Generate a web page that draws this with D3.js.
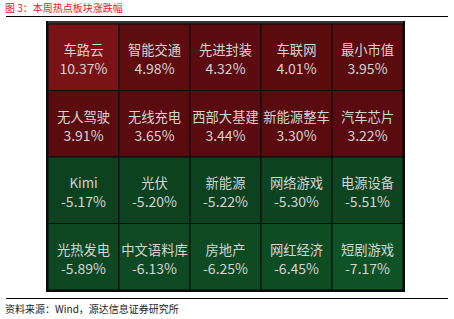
<!DOCTYPE html>
<html>
<head>
<meta charset="utf-8">
<script src="https://cdn.jsdelivr.net/npm/d3@7"></script>
<style>
  body { margin: 0; background: #fff; }
  svg { display: block; font-family: "Noto Sans CJK SC", "Noto Sans", sans-serif; }
</style>
</head>
<body>
<div id="plot"></div>
<script>
// sectors, in reading order (left to right, top to bottom)
const sectors = ['车路云', '智能交通', '先进封装', '车联网', '最小市值',
                 '无人驾驶', '无线充电', '西部大基建', '新能源整车', '汽车芯片',
                 'Kimi', '光伏', '新能源', '网络游戏', '电源设备',
                 '光热发电', '中文语料库', '房地产', '网红经济', '短剧游戏'];
const changes = [10.37, 4.98, 4.32, 4.01, 3.95,
                 3.91, 3.65, 3.44, 3.30, 3.22,
                 -5.17, -5.20, -5.22, -5.30, -5.51,
                 -5.89, -6.13, -6.25, -6.45, -7.17];
const colCount = 5;

const width = 454;
const height = 319;

const svg = d3.select('#plot')
    .append('svg')
    .attr('width', width)
    .attr('height', height);

// title + rules
svg.append('text')
    .attr('x', 5)
    .attr('y', 12)
    .attr('font-size', '10px')
    .attr('fill', '#e8141e')
    .text('图 3：本周热点板块涨跌幅');

svg.append('line')
    .attr('x1', 6).attr('x2', 448)
    .attr('y1', 16.5).attr('y2', 16.5)
    .attr('stroke', '#000')
    .attr('stroke-width', 1.2);

svg.append('line')
    .attr('x1', 6).attr('x2', 448)
    .attr('y1', 298.5).attr('y2', 298.5)
    .attr('stroke', '#000')
    .attr('stroke-width', 1.2);

svg.append('text')
    .attr('x', 5)
    .attr('y', 313)
    .attr('font-size', '10px')
    .attr('fill', '#222')
    .text('资料来源：Wind，源达信息证券研究所');

// panel frame
const grid = {left: 48, right: 403, top: 24, bottom: 290};
svg.append('rect')
    .attr('x', grid.left - 2)
    .attr('y', grid.top - 3)
    .attr('width', grid.right - grid.left + 4)
    .attr('height', grid.bottom - grid.top + 5)
    .attr('fill', '#0b0b0b');
svg.append('rect')
    .attr('x', grid.left)
    .attr('y', grid.top - 3)
    .attr('width', grid.right - grid.left)
    .attr('height', 3)
    .attr('fill', '#353535');

const cells = sectors.map((name, i) => ({
    name,
    value: changes[i],
    col: i % colCount,
    row: Math.floor(i / colCount)
}));

const x = d3.scaleBand()
    .domain(d3.range(colCount))
    .range([grid.left, grid.right]);
const y = d3.scaleBand()
    .domain(d3.range(Math.ceil(sectors.length / colCount)))
    .range([grid.top, grid.bottom]);

const redScale = d3.scaleLinear()
    .domain([3.22, 4.98, 10.37])
    .range(['#590b0f', '#5d0d10', '#7a1316']);
const greenScale = d3.scaleLinear()
    .domain([-5.17, -7.17])
    .range(['#0c4220', '#0f5226']);
const color = v => v >= 0 ? redScale(v) : greenScale(v);

const g = svg.selectAll('g.cell')
    .data(cells)
    .join('g')
    .attr('class', 'cell')
    .attr('transform', d => `translate(${x(d.col)},${y(d.row)})`);

g.append('rect')
    .attr('width', x.bandwidth())
    .attr('height', y.bandwidth())
    .attr('fill', d => color(d.value))
    .attr('stroke', '#0b0b0b')
    .attr('stroke-width', 1);

g.append('text')
    .attr('x', x.bandwidth() / 2)
    .attr('y', y.bandwidth() / 2 - 2)
    .attr('text-anchor', 'middle')
    .attr('font-size', '13.3px')
    .attr('fill', '#d4d4d4')
    .text(d => d.name);

g.append('text')
    .attr('x', x.bandwidth() / 2)
    .attr('y', y.bandwidth() / 2 + 17)
    .attr('text-anchor', 'middle')
    .attr('font-size', '14px')
    .attr('fill', '#d4d4d4')
    .text(d => d.value.toFixed(2) + '%');
</script>
</body>
</html>
